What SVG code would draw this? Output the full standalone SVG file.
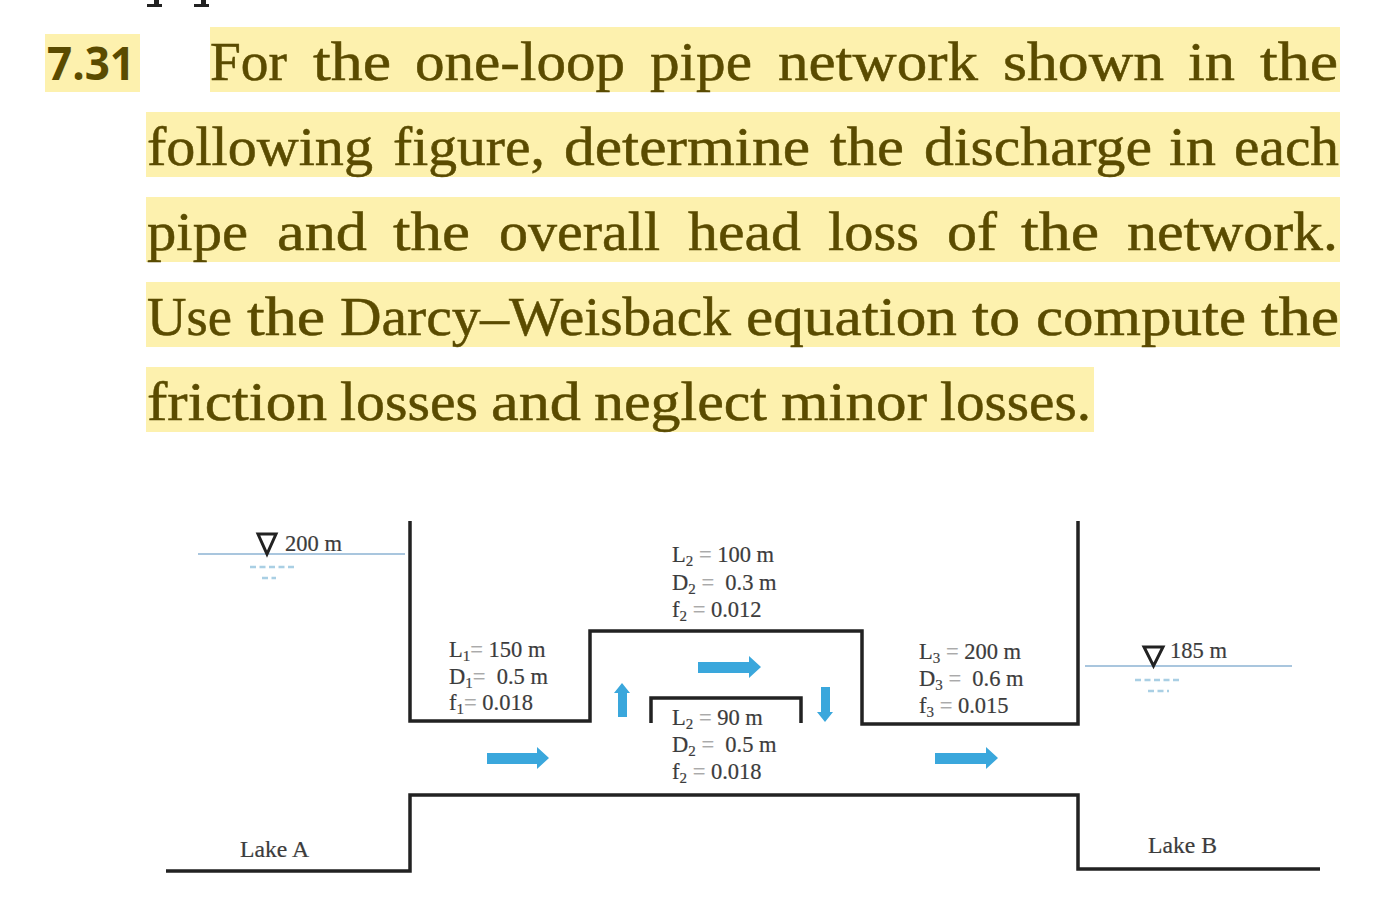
<svg xmlns="http://www.w3.org/2000/svg" width="1374" height="916" viewBox="0 0 1374 916">
<style>
.band{fill:#fdf1ae}
.b{font-family:"Liberation Serif",serif;font-size:55px;fill:#5a4b00;stroke:#5a4b00;stroke-width:.5}
.n{font-family:"Open Sans",sans-serif;font-weight:700;font-size:46px;fill:#5a4b00}
.pipe{fill:none;stroke:#222;stroke-width:3.5;stroke-linejoin:miter}
.water{fill:none;stroke:#a9c6de;stroke-width:2}
.dash{fill:none;stroke:#a9cfe4;stroke-width:2.500;stroke-dasharray:6 3.5}
.tri{fill:none;stroke:#222;stroke-width:3}
.t{font-family:"Liberation Serif",serif;font-size:22.500px;fill:#3c3c3c;stroke:#3c3c3c;stroke-width:.2;white-space:pre}
.s{font-size:15px}
.e{fill:#aaa;stroke:#aaa}
.flow{fill:#3aa7dc}
</style>
<rect width="1374" height="916" fill="#fff"/>
<g id="cropped-line">
<path fill="#222" d="M154 0H159V4H162V7H147V4H154Z"/>
<path fill="#222" d="M201 0H206V4H209V7H194V4H201Z"/>
</g>
<g id="question">
<rect class="band" x="45" y="34" width="95" height="58"/>
<rect class="band" x="210" y="27" width="1130" height="65"/>
<rect class="band" x="146" y="112" width="1194" height="65"/>
<rect class="band" x="146" y="197" width="1194" height="65"/>
<rect class="band" x="146" y="282" width="1194" height="65"/>
<rect class="band" x="146" y="367" width="948" height="65"/>
<text class="n" x="47" y="80" textLength="88" lengthAdjust="spacingAndGlyphs">7.31</text>
<text class="b" y="80"><tspan x="210" textLength="77" lengthAdjust="spacingAndGlyphs">For</tspan> <tspan x="313" textLength="78" lengthAdjust="spacingAndGlyphs">the</tspan> <tspan x="415" textLength="210" lengthAdjust="spacingAndGlyphs">one-loop</tspan> <tspan x="650" textLength="102" lengthAdjust="spacingAndGlyphs">pipe</tspan> <tspan x="778" textLength="200" lengthAdjust="spacingAndGlyphs">network</tspan> <tspan x="1003" textLength="161" lengthAdjust="spacingAndGlyphs">shown</tspan> <tspan x="1188" textLength="47" lengthAdjust="spacingAndGlyphs">in</tspan> <tspan x="1260" textLength="78" lengthAdjust="spacingAndGlyphs">the</tspan></text>
<text class="b" y="165"><tspan x="147" textLength="226" lengthAdjust="spacingAndGlyphs">following</tspan> <tspan x="393" textLength="152" lengthAdjust="spacingAndGlyphs">figure,</tspan> <tspan x="564" textLength="246" lengthAdjust="spacingAndGlyphs">determine</tspan> <tspan x="830" textLength="74" lengthAdjust="spacingAndGlyphs">the</tspan> <tspan x="924" textLength="228" lengthAdjust="spacingAndGlyphs">discharge</tspan> <tspan x="1169" textLength="47" lengthAdjust="spacingAndGlyphs">in</tspan> <tspan x="1234" textLength="105" lengthAdjust="spacingAndGlyphs">each</tspan></text>
<text class="b" y="250"><tspan x="147" textLength="101" lengthAdjust="spacingAndGlyphs">pipe</tspan> <tspan x="277" textLength="90" lengthAdjust="spacingAndGlyphs">and</tspan> <tspan x="393" textLength="77" lengthAdjust="spacingAndGlyphs">the</tspan> <tspan x="499" textLength="161" lengthAdjust="spacingAndGlyphs">overall</tspan> <tspan x="688" textLength="113" lengthAdjust="spacingAndGlyphs">head</tspan> <tspan x="828" textLength="91" lengthAdjust="spacingAndGlyphs">loss</tspan> <tspan x="947" textLength="50" lengthAdjust="spacingAndGlyphs">of</tspan> <tspan x="1021" textLength="78" lengthAdjust="spacingAndGlyphs">the</tspan> <tspan x="1127" textLength="211" lengthAdjust="spacingAndGlyphs">network.</tspan></text>
<text class="b" y="335"><tspan x="147" textLength="85" lengthAdjust="spacingAndGlyphs">Use</tspan> <tspan x="247" textLength="78" lengthAdjust="spacingAndGlyphs">the</tspan> <tspan x="340" textLength="391" lengthAdjust="spacingAndGlyphs">Darcy–Weisback</tspan> <tspan x="746" textLength="211" lengthAdjust="spacingAndGlyphs">equation</tspan> <tspan x="972" textLength="48" lengthAdjust="spacingAndGlyphs">to</tspan> <tspan x="1036" textLength="210" lengthAdjust="spacingAndGlyphs">compute</tspan> <tspan x="1261" textLength="78" lengthAdjust="spacingAndGlyphs">the</tspan></text>
<text class="b" y="420"><tspan x="147" textLength="180" lengthAdjust="spacingAndGlyphs">friction</tspan> <tspan x="340" textLength="138" lengthAdjust="spacingAndGlyphs">losses</tspan> <tspan x="491" textLength="90" lengthAdjust="spacingAndGlyphs">and</tspan> <tspan x="594" textLength="173" lengthAdjust="spacingAndGlyphs">neglect</tspan> <tspan x="781" textLength="146" lengthAdjust="spacingAndGlyphs">minor</tspan> <tspan x="940" textLength="151" lengthAdjust="spacingAndGlyphs">losses.</tspan></text>
</g>
<g id="connectors">
<path class="pipe" d="M410 521V721H590V631H862V724H1078V521"/>
<path class="pipe" d="M651 723V698H801V723"/>
<path class="pipe" d="M166 871H410V795H1078V869H1320"/>
<path class="flow" d="M487 753H537V747L549 758L537 769V764H487Z"/>
<path class="flow" d="M698 662H749V656L761 667L749 678V673H698Z"/>
<path class="flow" d="M935 753H986V747L998 758L986 769V764H935Z"/>
<path class="flow" d="M622 683L630 693H627V717H618V693H614Z"/>
<path class="flow" d="M825 722L817 712H821V687H830V712H833Z"/>
</g>
<g id="lake-a">
<path class="water" d="M198 554H405"/>
<path class="dash" d="M250 567H295"/>
<path class="dash" d="M262 578H276"/>
<path class="tri" d="M258 534H276L267 554Z"/>
<text class="t" x="285" y="551">200 m</text>
<text class="t" x="240" y="857" textLength="69" lengthAdjust="spacingAndGlyphs">Lake A</text>
</g>
<g id="lake-b">
<path class="water" d="M1085 666H1292"/>
<path class="dash" d="M1135 680H1181"/>
<path class="dash" d="M1148 691H1169"/>
<path class="tri" d="M1144 647H1163L1153.500 666Z"/>
<text class="t" x="1170" y="658">185 m</text>
<text class="t" x="1148" y="853" textLength="69" lengthAdjust="spacingAndGlyphs">Lake B</text>
</g>
<g id="pipe-1">
<text class="t" x="449" y="657">L<tspan class="s" dy="4">1</tspan><tspan class="e" dy="-4">=</tspan> 150 m</text>
<text class="t" x="449" y="684">D<tspan class="s" dy="4">1</tspan><tspan class="e" dy="-4">=</tspan>  0.5 m</text>
<text class="t" x="449" y="710">f<tspan class="s" dy="4">1</tspan><tspan class="e" dy="-4">=</tspan> 0.018</text>
</g>
<g id="pipe-2-upper">
<text class="t" x="672" y="562">L<tspan class="s" dy="4">2</tspan><tspan class="e" dy="-4"> =</tspan> 100 m</text>
<text class="t" x="672" y="590">D<tspan class="s" dy="4">2</tspan><tspan class="e" dy="-4"> =</tspan>  0.3 m</text>
<text class="t" x="672" y="617">f<tspan class="s" dy="4">2</tspan><tspan class="e" dy="-4"> =</tspan> 0.012</text>
</g>
<g id="pipe-2-lower">
<text class="t" x="672" y="725">L<tspan class="s" dy="4">2</tspan><tspan class="e" dy="-4"> =</tspan> 90 m</text>
<text class="t" x="672" y="752">D<tspan class="s" dy="4">2</tspan><tspan class="e" dy="-4"> =</tspan>  0.5 m</text>
<text class="t" x="672" y="779">f<tspan class="s" dy="4">2</tspan><tspan class="e" dy="-4"> =</tspan> 0.018</text>
</g>
<g id="pipe-3">
<text class="t" x="919" y="659">L<tspan class="s" dy="4">3</tspan><tspan class="e" dy="-4"> =</tspan> 200 m</text>
<text class="t" x="919" y="686">D<tspan class="s" dy="4">3</tspan><tspan class="e" dy="-4"> =</tspan>  0.6 m</text>
<text class="t" x="919" y="713">f<tspan class="s" dy="4">3</tspan><tspan class="e" dy="-4"> =</tspan> 0.015</text>
</g>
</svg>
